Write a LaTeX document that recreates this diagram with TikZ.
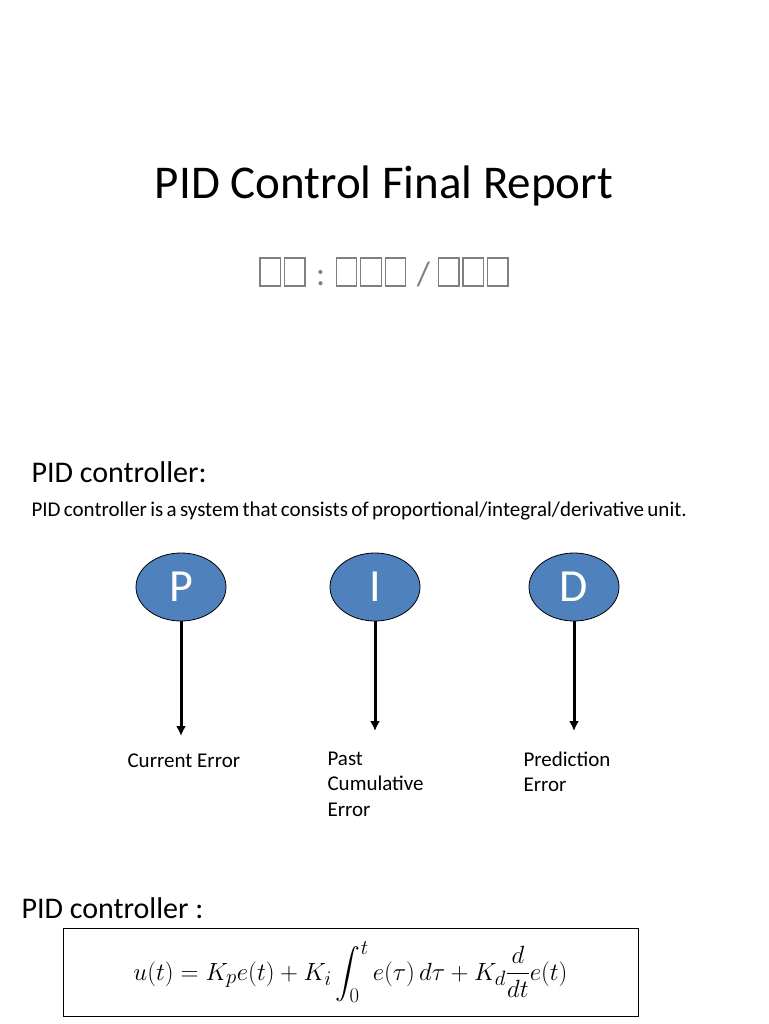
\documentclass[tikz,border=0pt]{standalone}
\usepackage{fontspec}
\usepackage{amsmath}
\setmainfont{Carlito}
\usetikzlibrary{shapes.geometric,positioning,arrows.meta}
\definecolor{unitblue}{HTML}{4F81BD}
\newcommand{\tofu}{\textcolor{gray}{\fboxrule=1.4pt\fboxsep=0pt\fbox{\rule{0pt}{0.78em}\hspace{0.56em}}}\hspace{0.08em}}
\tikzset{
  unit/.style={ellipse, draw, thick, fill=unitblue, text=white, minimum width=90, minimum height=68, inner sep=0pt, font=\fontsize{46}{46}\selectfont},
  flow/.style={line width=3pt, -{Latex[length=10pt,width=10pt]}},
  result/.style={anchor=north west, align=left, font=\fontsize{21}{25.5}\selectfont}
}
\begin{document}
\begin{tikzpicture}[x=1pt,y=-1pt]
\useasboundingbox (0,0) rectangle (768,1024);
\node (title) at (384,186) {\fontsize{47}{56}\selectfont PID Control Final Report};
\node[text=gray] (sub) at (384,272) {\fontsize{34}{40}\selectfont \tofu\tofu{} : \tofu\tofu\tofu{} / \tofu\tofu\tofu};
\node[anchor=west] (head) at (28,472) {\fontsize{30}{34}\selectfont PID controller:};
\node[anchor=north west, align=left, text width=680] (desc) at (28,498) {\fontsize{21}{27}\selectfont PID controller is a system that consists of proportional/integral/derivative unit.};
\node[unit] (p) at (181,587) {\raisebox{-0.08em}{P}};
\node[unit] (i) at (375,587) {\raisebox{-0.08em}{I}};
\node[unit] (d) at (574,587) {\raisebox{-0.08em}{D}};
\coordinate (pe) at (181,736);
\coordinate (ie) at (375,731);
\coordinate (de) at (574,731);
\draw[flow] (p) -- (pe);
\draw[flow] (i) -- (ie);
\draw[flow] (d) -- (de);
\node[result] (cur) at (124,750) {Current Error};
\node[result] (past) at (324,748) {Past\\Cumulative\\Error};
\node[result] (pred) at (520,748) {Prediction\\Error};
\node[anchor=west] (head2) at (18,908) {\fontsize{30}{34}\selectfont PID controller :};
\node[draw, minimum width=575, minimum height=88, inner sep=0pt] (eq) at (350.5,972)
  {\fontsize{32}{38}\selectfont $u(t)=K_p e(t)+K_i\displaystyle\int_0^t e(\tau)\,d\tau+K_d\frac{d}{dt}e(t)$};
\end{tikzpicture}
\end{document}
